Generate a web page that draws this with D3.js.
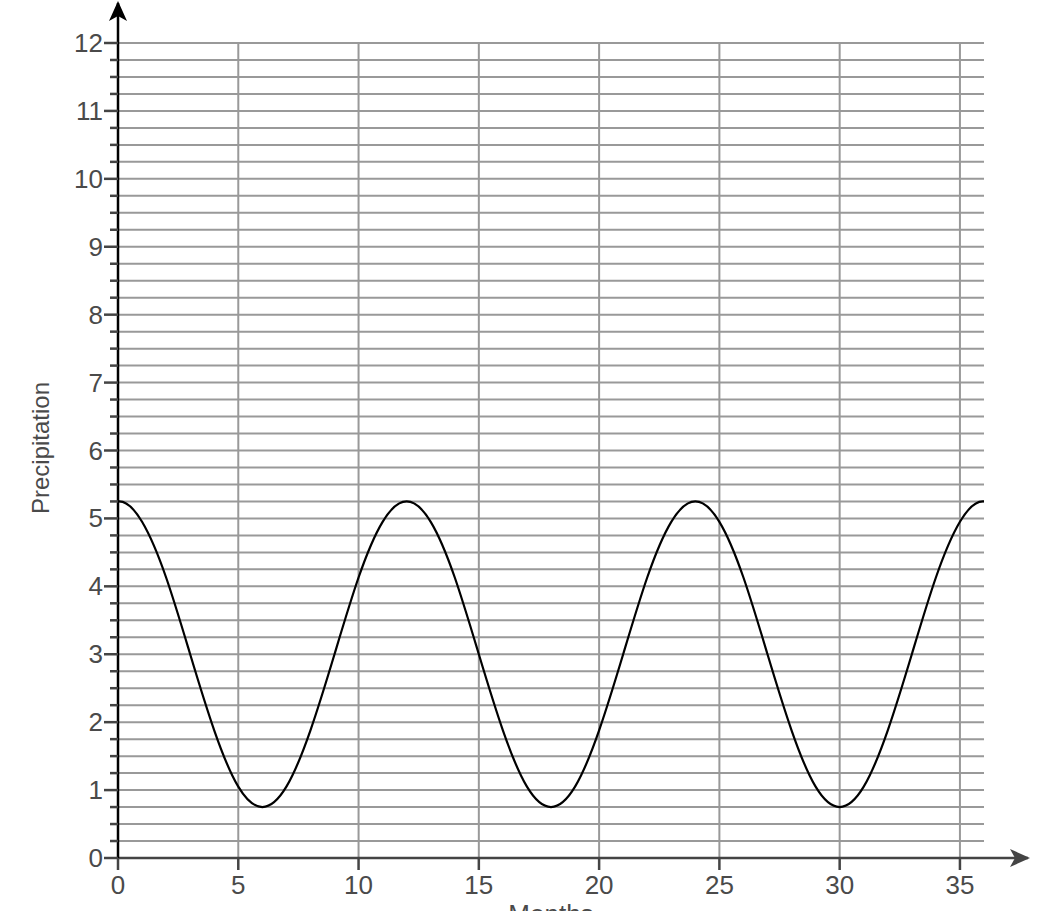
<!DOCTYPE html>
<html>
<head>
<meta charset="utf-8">
<title>Precipitation by month</title>
<script src="https://cdn.jsdelivr.net/npm/d3@7"></script>
<style>
  body { margin: 0; background: #fff; }
  text { font-family: Arial, "Liberation Sans", sans-serif; fill: #4a4a4a; }
</style>
</head>
<body>
<div id="chart"></div>
<script>
// months along the x axis and precipitation
var months = d3.range(0, 37);
var precip = [5.25, 4.95, 4.13, 3.0, 1.88, 1.05, 0.75, 1.05, 1.88, 3.0, 4.13, 4.95,
              5.25, 4.95, 4.13, 3.0, 1.88, 1.05, 0.75, 1.05, 1.88, 3.0, 4.13, 4.95,
              5.25, 4.95, 4.13, 3.0, 1.88, 1.05, 0.75, 1.05, 1.88, 3.0, 4.13, 4.95,
              5.25];
var xTicks = [0, 5, 10, 15, 20, 25, 30, 35];
var yTicks = d3.range(0, 13);
var yMinor = d3.range(0, 12.01, 0.25);

var width = 1053, height = 911;

var x = d3.scaleLinear().domain([0, 36]).range([118, 984]);
var y = d3.scaleLinear().domain([0, 12]).range([858, 43]);

var svg = d3.select('#chart').append('svg')
    .attr('width', width)
    .attr('height', height);

var defs = svg.append('defs');
defs.append('clipPath').attr('id', 'plot')
    .append('rect')
    .attr('x', x(0)).attr('y', 0)
    .attr('width', x(36) - x(0)).attr('height', y(0));

// horizontal grid every quarter unit
svg.append('g').selectAll('line')
    .data(yMinor)
    .enter().append('line')
    .attr('x1', x(0)).attr('x2', x(36))
    .attr('y1', d => y(d)).attr('y2', d => y(d))
    .attr('stroke', '#999')
    .attr('stroke-width', 2);

// vertical grid every 5 months
svg.append('g').selectAll('line')
    .data(xTicks.filter(d => d > 0))
    .enter().append('line')
    .attr('x1', d => x(d)).attr('x2', d => x(d))
    .attr('y1', y(0)).attr('y2', y(12))
    .attr('stroke', '#999')
    .attr('stroke-width', 2);

// the curve - ends mirrored one step outward so the peaks at 0 and 36
// come out flat, then clipped back to the plot
var pts = months.map((m, i) => [m, precip[i]]);
var n = pts.length;
pts.unshift([-1, precip[1]]);
pts.push([37, precip[n - 2]]);

var line = d3.line()
    .x(d => x(d[0]))
    .y(d => y(d[1]))
    .curve(d3.curveNatural);

svg.append('path')
    .datum(pts)
    .attr('d', line)
    .attr('clip-path', 'url(#plot)')
    .attr('fill', 'none')
    .attr('stroke', '#000')
    .attr('stroke-width', 2.2);

// arrow heads
defs.append('marker')
    .attr('id', 'arrowY')
    .attr('viewBox', '0 0 20 20')
    .attr('refX', 18).attr('refY', 10)
    .attr('markerWidth', 20).attr('markerHeight', 20)
    .attr('markerUnits', 'userSpaceOnUse')
    .attr('orient', 'auto')
    .append('path')
    .attr('d', 'M0,1 L20,10 L0,19 L5,10 Z')
    .attr('fill', '#000');
defs.append('marker')
    .attr('id', 'arrowX')
    .attr('viewBox', '0 0 20 20')
    .attr('refX', 18).attr('refY', 10)
    .attr('markerWidth', 22).attr('markerHeight', 20)
    .attr('markerUnits', 'userSpaceOnUse')
    .attr('orient', 'auto')
    .append('path')
    .attr('d', 'M0,1 L20,10 L0,19 L5,10 Z')
    .attr('fill', '#444');

// x axis
svg.append('line')
    .attr('x1', x(0)).attr('x2', 1028)
    .attr('y1', y(0)).attr('y2', y(0))
    .attr('stroke', '#444').attr('stroke-width', 2.5)
    .attr('marker-end', 'url(#arrowX)');

svg.append('g').selectAll('line')
    .data(xTicks)
    .enter().append('line')
    .attr('x1', d => x(d)).attr('x2', d => x(d))
    .attr('y1', y(0)).attr('y2', y(0) + 12)
    .attr('stroke', '#444').attr('stroke-width', 2.5);

svg.append('g').selectAll('text')
    .data(xTicks)
    .enter().append('text')
    .attr('x', d => x(d))
    .attr('y', 894)
    .attr('text-anchor', 'middle')
    .style('font-size', '26px')
    .text(d => d);

// y axis
svg.append('line')
    .attr('x1', x(0)).attr('x2', x(0))
    .attr('y1', y(0)).attr('y2', 3)
    .attr('stroke', '#000').attr('stroke-width', 2.5)
    .attr('marker-end', 'url(#arrowY)');

svg.append('g').selectAll('line')
    .data(yMinor)
    .enter().append('line')
    .attr('x1', d => Number.isInteger(d) ? x(0) - 14 : x(0) - 8)
    .attr('x2', x(0))
    .attr('y1', d => y(d)).attr('y2', d => y(d))
    .attr('stroke', '#444').attr('stroke-width', 2.5);

svg.append('g').selectAll('text')
    .data(yTicks)
    .enter().append('text')
    .attr('x', 103)
    .attr('y', d => y(d) + 9)
    .attr('text-anchor', 'end')
    .style('font-size', '26px')
    .text(d => d);

// axis titles
svg.append('text')
    .attr('transform', 'translate(49,448) rotate(-90)')
    .attr('text-anchor', 'middle')
    .style('font-size', '24px')
    .text('Precipitation');

svg.append('text')
    .attr('x', x(18))
    .attr('y', 923)
    .attr('text-anchor', 'middle')
    .style('font-size', '26px')
    .text('Months');
</script>
</body>
</html>
